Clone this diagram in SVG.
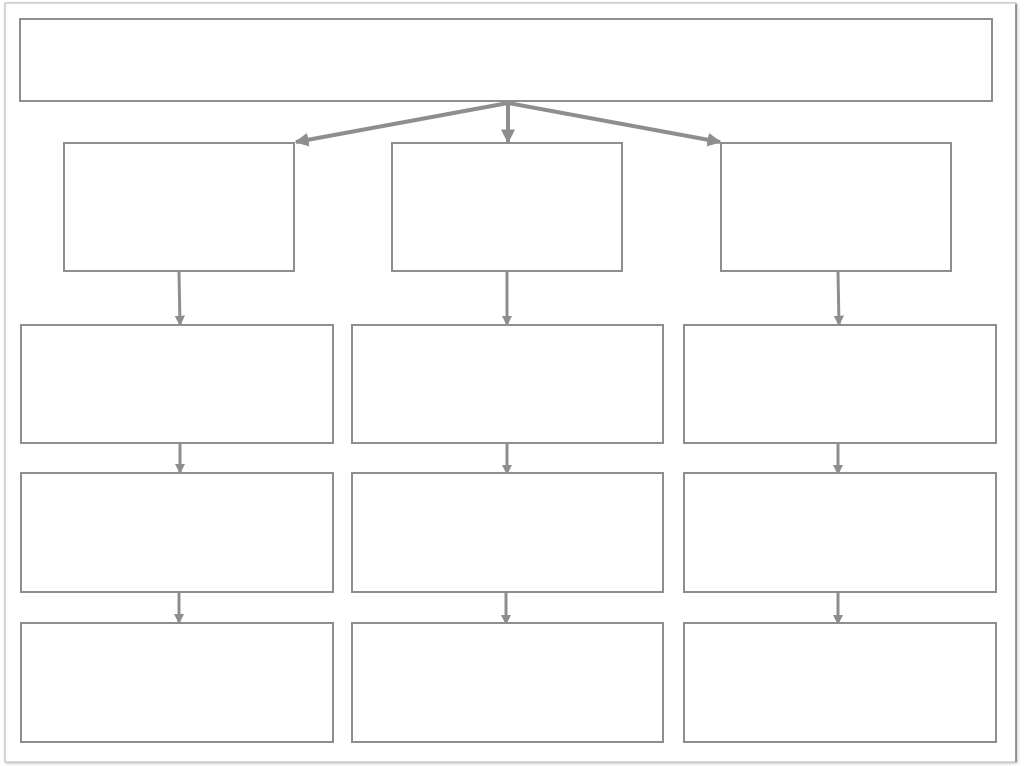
<svg xmlns="http://www.w3.org/2000/svg" width="1024" height="766" viewBox="0 0 1024 766">
<style>
.box{fill:#ffffff;stroke:#8e8e8e;stroke-width:2}
.con{stroke:#8e8e8e;stroke-width:4;fill:none}
.con2{stroke:#8e8e8e;stroke-width:3;fill:none}
</style>
<defs>
<marker id="ah" viewBox="0 0 10 10" refX="9" refY="5" markerWidth="3.5" markerHeight="3.5" markerUnits="strokeWidth" orient="auto">
<path d="M0,0 L10,5 L0,10 z" fill="#8e8e8e"/>
</marker>
<filter id="sh" x="-2%" y="-2%" width="104%" height="104%">
<feDropShadow dx="1" dy="1" stdDeviation="1.5" flood-color="#000" flood-opacity="0.25"/>
</filter>
</defs>
<rect x="0" y="0" width="1024" height="766" fill="#ffffff"/>
<rect id="frame" x="5" y="3" width="1011" height="759" fill="#ffffff" stroke="#b4b4b4" stroke-width="1" filter="url(#sh)"/>
<line x1="1016" y1="4" x2="1016" y2="762" stroke="#555555" stroke-width="1"/>
<g id="connectors">
<line class="con" x1="508" y1="103" x2="296" y2="142" marker-end="url(#ah)"/>
<line class="con" x1="508" y1="103" x2="508" y2="142" marker-end="url(#ah)"/>
<line class="con" x1="508" y1="103" x2="720" y2="142" marker-end="url(#ah)"/>
<line class="con2" x1="179" y1="272" x2="180" y2="325" marker-end="url(#ah)"/>
<line class="con2" x1="507" y1="272" x2="507" y2="325" marker-end="url(#ah)"/>
<line class="con2" x1="838" y1="272" x2="839" y2="325" marker-end="url(#ah)"/>
<line class="con2" x1="180" y1="443" x2="180" y2="473" marker-end="url(#ah)"/>
<line class="con2" x1="507" y1="443" x2="507" y2="474" marker-end="url(#ah)"/>
<line class="con2" x1="838" y1="443" x2="838" y2="474" marker-end="url(#ah)"/>
<line class="con2" x1="179" y1="592" x2="179" y2="623" marker-end="url(#ah)"/>
<line class="con2" x1="506" y1="592" x2="506" y2="624" marker-end="url(#ah)"/>
<line class="con2" x1="838" y1="592" x2="838" y2="624" marker-end="url(#ah)"/>
</g>
<g id="top"><rect class="box" x="20" y="19" width="972" height="82"/></g>
<g id="a1"><rect class="box" x="64" y="143" width="230" height="128"/></g>
<g id="b1"><rect class="box" x="392" y="143" width="230" height="128"/></g>
<g id="c1"><rect class="box" x="721" y="143" width="230" height="128"/></g>
<g id="a2"><rect class="box" x="21" y="325" width="312" height="118"/></g>
<g id="b2"><rect class="box" x="352" y="325" width="311" height="118"/></g>
<g id="c2"><rect class="box" x="684" y="325" width="312" height="118"/></g>
<g id="a3"><rect class="box" x="21" y="473" width="312" height="119"/></g>
<g id="b3"><rect class="box" x="352" y="473" width="311" height="119"/></g>
<g id="c3"><rect class="box" x="684" y="473" width="312" height="119"/></g>
<g id="a4"><rect class="box" x="21" y="623" width="312" height="119"/></g>
<g id="b4"><rect class="box" x="352" y="623" width="311" height="119"/></g>
<g id="c4"><rect class="box" x="684" y="623" width="312" height="119"/></g>
</svg>
